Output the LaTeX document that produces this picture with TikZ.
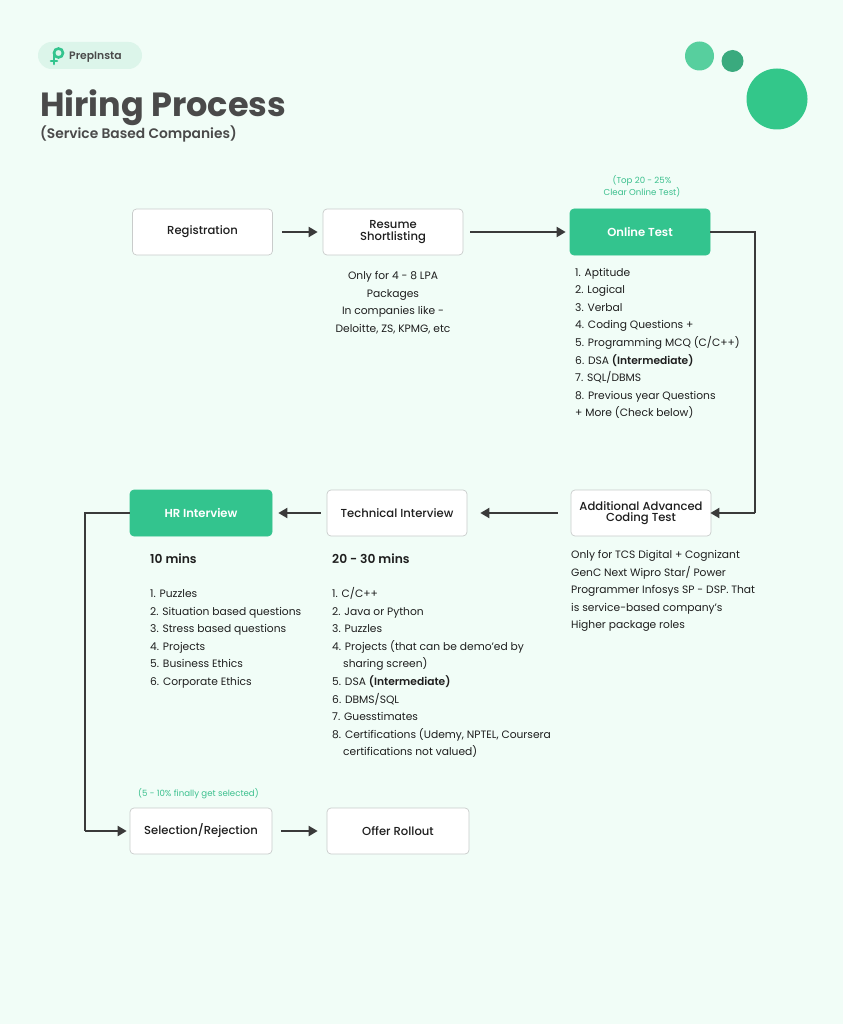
\documentclass[tikz,border=0pt]{standalone}
\usepackage{fontspec}
\setmainfont{Poppins}
\IfFontExistsTF{Poppins-Medium}{\newfontfamily\medf{Poppins-Medium}}{\newfontfamily\medf{Poppins}}
\IfFontExistsTF{Poppins-SemiBold}{\newfontfamily\semif{Poppins-SemiBold}}{\newfontfamily\semif{Poppins}[UprightFont=*-Bold]}
\usetikzlibrary{arrows.meta}
\definecolor{bgc}{HTML}{F1FDF7}
\definecolor{pill}{HTML}{DCF5EA}
\definecolor{gbox}{HTML}{33C48E}
\definecolor{gtext}{HTML}{3CC08E}
\definecolor{titlec}{HTML}{4A4A4A}
\definecolor{bodyc}{HTML}{1E1E1E}
\definecolor{linec}{HTML}{3A3A3A}
\definecolor{boxline}{HTML}{C9CCCB}
\definecolor{dotA}{HTML}{57CF9E}
\definecolor{dotB}{HTML}{3AAA7E}
\definecolor{dotC}{HTML}{33C78A}
\tikzset{
  box/.style={draw=boxline, fill=white, rounded corners=4pt, minimum width=140pt,
    minimum height=46pt, line width=0.7pt, inner sep=0pt, align=center,
    text=bodyc, font=\fontsize{11.6}{12.5}\selectfont\medf},
  greenbox/.style={box, fill=gbox, draw=gbox, text=white, font=\fontsize{11.6}{12.5}\selectfont\semif},
  arr/.style={draw=linec, line width=2pt, -{Triangle[length=9pt,width=10pt]}},
  conn/.style={draw=linec, line width=2pt},
  item/.style={anchor=base west, inner sep=0pt, text=bodyc, font=\fontsize{10.7}{12}\selectfont},
  citem/.style={anchor=base, inner sep=0pt, text=bodyc, font=\fontsize{10.7}{12}\selectfont},
  note/.style={anchor=base, inner sep=0pt, text=gtext, font=\fontsize{8.6}{10}\selectfont},
  head/.style={anchor=base west, inner sep=0pt, text=bodyc, font=\fontsize{12.3}{13}\selectfont\semif}
}
\newcommand{\bsemi}[1]{{\semif #1}}
\begin{document}
\begin{tikzpicture}[x=1pt,y=-1pt]
\fill[bgc] (0,0) rectangle (843,1024);
\useasboundingbox (0,0) rectangle (843,1024);

% logo pill
\fill[pill, rounded corners=13.5pt] (38,42) rectangle (142,69);
\draw[gbox, line width=2.6pt] (58.5,53) circle (4.5pt);
\draw[gbox, line width=2.6pt, line cap=round] (54,53) -- (54,64);
\draw[gbox, line width=2.6pt, line cap=round] (51,61) -- (57,61);
\node[anchor=base west, inner sep=0pt, text=titlec, font=\fontsize{10.8}{12}\selectfont\semif] (logo) at (69,60) {PrepInsta};

% title
\node[anchor=base west, inner sep=0pt, text=titlec, font=\fontsize{33.5}{36}\selectfont\bfseries] (title) at (40,117) {Hiring Process};
\node[anchor=base west, inner sep=0pt, text=titlec, font=\fontsize{13.8}{16}\selectfont\semif] (subtitle) at (40,139) {(Service Based Companies)};

% dots
\fill[dotA] (699.5,56) circle (14.5pt);
\fill[dotB] (732.5,61) circle (11pt);
\fill[dotC] (777,99) circle (30.5pt);

% boxes
\node[box] (reg) at (202.5,232) {Registration};
\node[box] (res) at (393,232) {Resume\\[-1pt]Shortlisting};
\node[greenbox] (ot) at (640,232) {Online Test};
\node[box] (aac) at (641,513) {Additional Advanced\\[-1pt]Coding Test};
\node[box] (ti) at (397,513) {Technical Interview};
\node[greenbox, minimum width=142pt] (hr) at (201,513) {HR Interview};
\node[box, minimum width=142pt] (sel) at (201,831) {Selection/Rejection};
\node[box, minimum width=142pt] (off) at (398,831) {Offer Rollout};

% coordinates for the routed connectors
\coordinate (c1) at (755,232);
\coordinate (c2) at (755,513);
\coordinate (c3) at (85,513);
\coordinate (c4) at (85,831);

% connectors
\draw[arr, shorten <=9pt, shorten >=5pt] (reg) -- (res);
\draw[arr, shorten <=7pt, shorten >=4pt] (res) -- (ot);
\draw[conn] (ot.east) -- (c1) -- (c2);
\draw[arr, shorten >=-1pt] (c2) -- (aac.east);
\draw[arr, shorten <=13pt, shorten >=13pt] (aac) -- (ti);
\draw[arr, shorten <=6pt, shorten >=6pt] (ti) -- (hr);
\draw[conn] (hr.west) -- (c3) -- (c4);
\draw[arr, shorten >=3pt] (c4) -- (sel.west);
\draw[arr, shorten <=9pt, shorten >=9pt] (sel) -- (off);

% notes
\node[note] (n1) at (642,184) {(Top 20 - 25\%};
\node[note] (n2) at (642,195.5) {Clear Online Test)};
\node[note, anchor=base west] (n3) at (138,796) {(5 - 10\% finally get selected)};

% resume text
\foreach \t [count=\i] in {Only for 4 - 8 LPA, Packages, In companies like -, {Deloitte, ZS, KPMG, etc}}
  \node[citem] (rs\i) at (393,{279.5+(\i-1)*17.6}) {\t};

% online test list
\foreach \t [count=\i] in {1. Aptitude, 2. Logical, 3. Verbal, 4. Coding Questions +,
  5. Programming MCQ (C/C++), 6. DSA \bsemi{(Intermediate)}, 7. SQL/DBMS,
  8. Previous year Questions, + More (Check below)}
  \node[item] (ol\i) at (575,{276+(\i-1)*17.6}) {\t};

% additional text
\foreach \t [count=\i] in {Only for TCS Digital + Cognizant, GenC Next Wipro Star/ Power,
  Programmer Infosys SP - DSP. That, is service-based company’s, Higher package roles}
  \node[item] (ad\i) at (571,{558.5+(\i-1)*17.6}) {\t};

% technical
\node[head] (th) at (332,563.5) {20 - 30 mins};
\foreach \t [count=\i] in {1. C/C++, 2. Java or Python, 3. Puzzles,
  4. Projects (that can be demo’ed by, \hspace*{11pt}sharing screen), 5. DSA \bsemi{(Intermediate)},
  6. DBMS/SQL, 7. Guesstimates, {8. Certifications (Udemy, NPTEL, Coursera},
  \hspace*{11pt}certifications not valued)}
  \node[item] (tl\i) at (332,{597.5+(\i-1)*17.6}) {\t};

% hr
\node[head] (hh) at (150,563.5) {10 mins};
\foreach \t [count=\i] in {1. Puzzles, 2. Situation based questions, 3. Stress based questions,
  4. Projects, 5. Business Ethics, 6. Corporate Ethics}
  \node[item] (hl\i) at (150,{597.5+(\i-1)*17.6}) {\t};
\end{tikzpicture}
\end{document}
